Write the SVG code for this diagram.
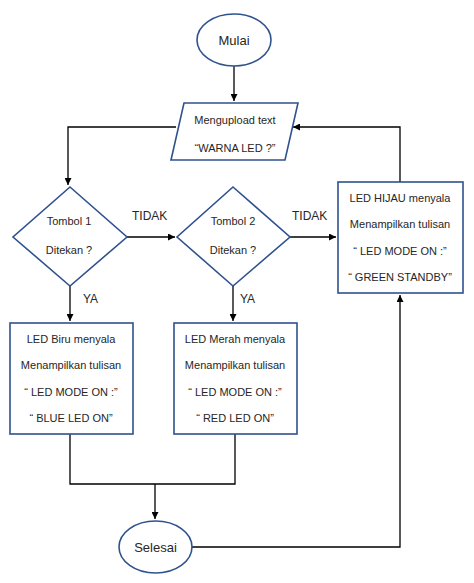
<svg xmlns="http://www.w3.org/2000/svg" width="474" height="583" viewBox="0 0 474 583">
<defs>
<marker id="arr" viewBox="0 0 10 10" refX="10" refY="5" markerWidth="7" markerHeight="7" orient="auto" markerUnits="userSpaceOnUse">
<path d="M0,0 L10,5 L0,10 z" fill="#000"/>
</marker>
<style>
.shape{fill:#fff;stroke:#2F528F;stroke-width:1.6}
.t{font-family:"Liberation Sans",Arial,sans-serif;font-size:11px;fill:#262626;text-anchor:middle}
.big{font-size:13px}
.lbl{font-family:"Liberation Sans",Arial,sans-serif;font-size:12px;fill:#262626}
.c{fill:none;stroke:#000;stroke-width:1.3}
</style>
</defs>
<rect width="474" height="583" fill="#fff"/>
<g id="connectors">
<path class="c" d="M234,66 V101" marker-end="url(#arr)"/>
<path class="c" d="M176,127 H68 V185" marker-end="url(#arr)"/>
<path class="c" d="M127,237 H175" marker-end="url(#arr)"/>
<path class="c" d="M290,237 H336" marker-end="url(#arr)"/>
<path class="c" d="M70,286 V321" marker-end="url(#arr)"/>
<path class="c" d="M233,286 V321" marker-end="url(#arr)"/>
<path class="c" d="M400,182 V127 H293" marker-end="url(#arr)"/>
<path class="c" d="M70,434 V484 H235 V434"/>
<path class="c" d="M155,484 V519" marker-end="url(#arr)"/>
<path class="c" d="M192,547 H400 V295" marker-end="url(#arr)"/>
<text class="lbl" x="132" y="220">TIDAK</text>
<text class="lbl" x="292" y="220">TIDAK</text>
<text class="lbl" x="83" y="303">YA</text>
<text class="lbl" x="240" y="303">YA</text>
</g>
<g id="mulai">
<ellipse class="shape" cx="234" cy="40" rx="37" ry="26"/>
<text class="t big" x="234" y="45">Mulai</text>
</g>
<g id="upload">
<polygon class="shape" points="184,103 298,103 285,160 171,160"/>
<text class="t" x="235" y="124">Mengupload text</text>
<text class="t" x="235" y="152">“WARNA LED  ?”</text>
</g>
<g id="tombol1">
<polygon class="shape" points="70,187 127,237 70,286 13,237"/>
<text class="t" x="69" y="225">Tombol 1</text>
<text class="t" x="69" y="254">Ditekan ?</text>
</g>
<g id="tombol2">
<polygon class="shape" points="233,187 290,237 233,286 177,237"/>
<text class="t" x="233" y="225">Tombol 2</text>
<text class="t" x="233" y="254">Ditekan ?</text>
</g>
<g id="hijau">
<rect class="shape" x="338" y="182" width="125" height="111"/>
<text class="t" x="400" y="202">LED HIJAU menyala</text>
<text class="t" x="400" y="228">Menampilkan tulisan</text>
<text class="t" x="400" y="255">“ LED MODE ON :”</text>
<text class="t" x="400" y="281">“ GREEN STANDBY”</text>
</g>
<g id="biru">
<rect class="shape" x="10" y="323" width="123" height="111"/>
<text class="t" x="71" y="343">LED Biru menyala</text>
<text class="t" x="71" y="369">Menampilkan tulisan</text>
<text class="t" x="71" y="396">“ LED MODE ON :”</text>
<text class="t" x="71" y="422">“ BLUE LED ON”</text>
</g>
<g id="merah">
<rect class="shape" x="174" y="323" width="123" height="111"/>
<text class="t" x="235" y="343">LED Merah menyala</text>
<text class="t" x="235" y="369">Menampilkan tulisan</text>
<text class="t" x="235" y="396">“ LED MODE ON :”</text>
<text class="t" x="235" y="422">“ RED LED ON”</text>
</g>
<g id="selesai">
<ellipse class="shape" cx="155.5" cy="547" rx="36.5" ry="26"/>
<text class="t big" x="155.5" y="552">Selesai</text>
</g>
</svg>
